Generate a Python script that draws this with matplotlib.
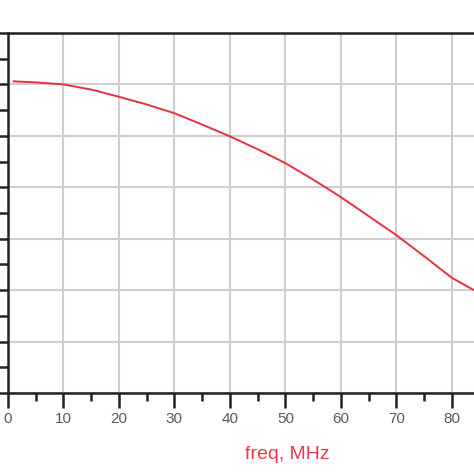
import matplotlib.pyplot as plt
from matplotlib.ticker import MultipleLocator

# values
freq = [1, 5, 10, 15, 20, 25, 30, 35, 40, 45, 50, 55, 60, 65, 70, 75, 80, 84]
resp = [6.06, 6.04, 6.00, 5.90, 5.76, 5.61, 5.44, 5.22, 4.99, 4.74,
        4.47, 4.15, 3.81, 3.44, 3.07, 2.66, 2.24, 2.0]
xticks = [0, 10, 20, 30, 40, 50, 60, 70, 80]

plt.rcParams['font.family'] = ['Liberation Sans', 'DejaVu Sans']

fig = plt.figure(figsize=(4.74, 4.74), dpi=100)
ax = fig.add_axes([8 / 474, 81 / 474, 466 / 474, 360 / 474])

ax.plot(freq, resp, color='#e5323e', lw=1.4)

ax.set_xlim(0, 84)
ax.set_ylim(0, 7)
ax.set_xticks(xticks)
ax.xaxis.set_minor_locator(MultipleLocator(5))
ax.yaxis.set_major_locator(MultipleLocator(1))
ax.yaxis.set_minor_locator(MultipleLocator(0.5))
ax.set_yticklabels([])

ax.grid(True, which='major', color='#cfcfcf', lw=1.5)
ax.set_axisbelow(True)

for s in ['left', 'top', 'bottom']:
    ax.spines[s].set_linewidth(1.8)
    ax.spines[s].set_color('#222222')
ax.spines['right'].set_visible(False)

ax.tick_params(axis='x', which='major', length=11, width=1.8, color='#222222',
               labelsize=11, labelcolor='#5a5a5a', pad=3)
ax.tick_params(axis='x', which='minor', length=6, width=1.8, color='#222222')
ax.tick_params(axis='y', which='both', length=8, width=1.8, color='#222222')

ax.set_xlabel('freq, MHz', color='#e83a50', fontsize=14, labelpad=14)
ax.xaxis.label.set_x((287 - 8) / 466)

fig.savefig('out.png', dpi=100)
